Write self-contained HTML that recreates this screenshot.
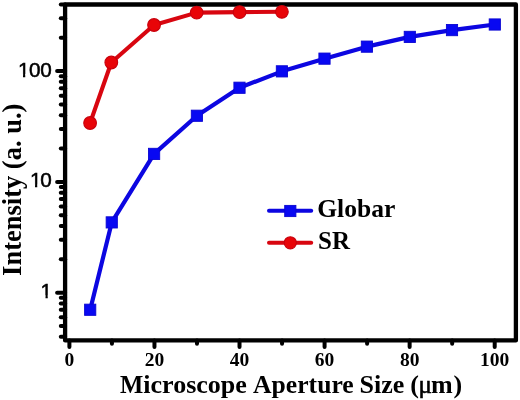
<!DOCTYPE html><html><head><meta charset="utf-8"><title>Intensity vs Microscope Aperture Size</title><style>html,body{margin:0;padding:0;background:#fff;}svg{display:block;}</style></head><body>
<svg width="520" height="400" viewBox="0 0 520 400">
<rect width="520" height="400" fill="#fff"/>
<g stroke="#000" stroke-width="4.0" stroke-linecap="round"><line x1="60.8" y1="336.79" x2="65.1" y2="336.79"/><line x1="60.8" y1="326.05" x2="65.1" y2="326.05"/><line x1="60.8" y1="317.28" x2="65.1" y2="317.28"/><line x1="60.8" y1="309.86" x2="65.1" y2="309.86"/><line x1="60.8" y1="303.44" x2="65.1" y2="303.44"/><line x1="60.8" y1="297.77" x2="65.1" y2="297.77"/><line x1="57.1" y1="292.70" x2="65.1" y2="292.70"/><line x1="60.8" y1="259.35" x2="65.1" y2="259.35"/><line x1="60.8" y1="239.83" x2="65.1" y2="239.83"/><line x1="60.8" y1="225.99" x2="65.1" y2="225.99"/><line x1="60.8" y1="215.25" x2="65.1" y2="215.25"/><line x1="60.8" y1="206.48" x2="65.1" y2="206.48"/><line x1="60.8" y1="199.06" x2="65.1" y2="199.06"/><line x1="60.8" y1="192.64" x2="65.1" y2="192.64"/><line x1="60.8" y1="186.97" x2="65.1" y2="186.97"/><line x1="57.1" y1="181.90" x2="65.1" y2="181.90"/><line x1="60.8" y1="148.55" x2="65.1" y2="148.55"/><line x1="60.8" y1="129.03" x2="65.1" y2="129.03"/><line x1="60.8" y1="115.19" x2="65.1" y2="115.19"/><line x1="60.8" y1="104.45" x2="65.1" y2="104.45"/><line x1="60.8" y1="95.68" x2="65.1" y2="95.68"/><line x1="60.8" y1="88.26" x2="65.1" y2="88.26"/><line x1="60.8" y1="81.84" x2="65.1" y2="81.84"/><line x1="60.8" y1="76.17" x2="65.1" y2="76.17"/><line x1="57.1" y1="71.10" x2="65.1" y2="71.10"/><line x1="60.8" y1="37.75" x2="65.1" y2="37.75"/><line x1="60.8" y1="18.23" x2="65.1" y2="18.23"/><line x1="60.8" y1="4.39" x2="65.1" y2="4.39"/><line x1="69.40" y1="340.4" x2="69.40" y2="347.0"/><line x1="111.93" y1="340.4" x2="111.93" y2="343.7"/><line x1="154.46" y1="340.4" x2="154.46" y2="347.0"/><line x1="196.99" y1="340.4" x2="196.99" y2="343.7"/><line x1="239.52" y1="340.4" x2="239.52" y2="347.0"/><line x1="282.05" y1="340.4" x2="282.05" y2="343.7"/><line x1="324.58" y1="340.4" x2="324.58" y2="347.0"/><line x1="367.11" y1="340.4" x2="367.11" y2="343.7"/><line x1="409.64" y1="340.4" x2="409.64" y2="347.0"/><line x1="452.17" y1="340.4" x2="452.17" y2="343.7"/><line x1="494.70" y1="340.4" x2="494.70" y2="347.0"/></g>
<rect x="65.1" y="4.5" width="450.80" height="335.90" fill="none" stroke="#000" stroke-width="4.3" stroke-linejoin="round"/>
<polyline points="90.20,309.75 111.75,222.40 154.10,153.90 196.90,115.75 239.50,87.75 281.90,71.35 324.50,58.65 366.90,46.65 409.80,36.90 452.00,30.10 494.80,24.50" fill="none" stroke="rgb(12,6,225)" stroke-width="4.2" stroke-linejoin="round"/>
<polyline points="90.10,123.00 111.30,62.50 154.05,25.00 196.70,12.60 239.60,12.10 281.90,11.80" fill="none" stroke="rgb(216,6,16)" stroke-width="4.1" stroke-linejoin="round"/>
<rect x="84.60" y="304.15" width="11.2" height="11.2" fill="rgb(8,8,242)" stroke="rgb(10,6,210)" stroke-width="0.9"/>
<rect x="106.15" y="216.80" width="11.2" height="11.2" fill="rgb(8,8,242)" stroke="rgb(10,6,210)" stroke-width="0.9"/>
<rect x="148.50" y="148.30" width="11.2" height="11.2" fill="rgb(8,8,242)" stroke="rgb(10,6,210)" stroke-width="0.9"/>
<rect x="191.30" y="110.15" width="11.2" height="11.2" fill="rgb(8,8,242)" stroke="rgb(10,6,210)" stroke-width="0.9"/>
<rect x="233.90" y="82.15" width="11.2" height="11.2" fill="rgb(8,8,242)" stroke="rgb(10,6,210)" stroke-width="0.9"/>
<rect x="276.30" y="65.75" width="11.2" height="11.2" fill="rgb(8,8,242)" stroke="rgb(10,6,210)" stroke-width="0.9"/>
<rect x="318.90" y="53.05" width="11.2" height="11.2" fill="rgb(8,8,242)" stroke="rgb(10,6,210)" stroke-width="0.9"/>
<rect x="361.30" y="41.05" width="11.2" height="11.2" fill="rgb(8,8,242)" stroke="rgb(10,6,210)" stroke-width="0.9"/>
<rect x="404.20" y="31.30" width="11.2" height="11.2" fill="rgb(8,8,242)" stroke="rgb(10,6,210)" stroke-width="0.9"/>
<rect x="446.40" y="24.50" width="11.2" height="11.2" fill="rgb(8,8,242)" stroke="rgb(10,6,210)" stroke-width="0.9"/>
<rect x="489.20" y="18.90" width="11.2" height="11.2" fill="rgb(8,8,242)" stroke="rgb(10,6,210)" stroke-width="0.9"/>
<circle cx="90.10" cy="123.00" r="6.35" fill="rgb(232,4,8)" stroke="rgb(200,0,12)" stroke-width="1.1"/>
<circle cx="111.30" cy="62.50" r="6.35" fill="rgb(232,4,8)" stroke="rgb(200,0,12)" stroke-width="1.1"/>
<circle cx="154.05" cy="25.00" r="6.35" fill="rgb(232,4,8)" stroke="rgb(200,0,12)" stroke-width="1.1"/>
<circle cx="196.70" cy="12.60" r="6.35" fill="rgb(232,4,8)" stroke="rgb(200,0,12)" stroke-width="1.1"/>
<circle cx="239.60" cy="12.10" r="6.35" fill="rgb(232,4,8)" stroke="rgb(200,0,12)" stroke-width="1.1"/>
<circle cx="281.90" cy="11.80" r="6.35" fill="rgb(232,4,8)" stroke="rgb(200,0,12)" stroke-width="1.1"/>
<line x1="269" y1="210.7" x2="311.2" y2="210.7" stroke="rgb(12,6,225)" stroke-width="4" stroke-linecap="round"/>
<rect x="284.7" y="205.4" width="11.2" height="11.2" fill="rgb(8,8,242)" stroke="rgb(10,6,210)" stroke-width="0.9"/>
<line x1="269" y1="242.7" x2="311.2" y2="242.7" stroke="rgb(216,6,16)" stroke-width="4" stroke-linecap="round"/>
<circle cx="290.3" cy="242.8" r="6.1" fill="rgb(232,4,8)" stroke="rgb(200,0,12)" stroke-width="1.1"/>
<text x="317.2" y="216.7" textLength="78.1" lengthAdjust="spacingAndGlyphs" style="font-family:'Liberation Serif','Times New Roman',serif;font-weight:bold;font-size:26px">Globar</text>
<text x="318.1" y="248.6" textLength="31.9" lengthAdjust="spacingAndGlyphs" style="font-family:'Liberation Serif','Times New Roman',serif;font-weight:bold;font-size:26px">SR</text>
<text x="18" y="76.7" stroke="#000" stroke-width="0.5" style="font-family:'Liberation Sans',Arial,sans-serif;font-size:20.7px">1</text>
<rect x="18.40" y="74.10" width="4.6" height="4.3" fill="#fff"/>
<rect x="25.25" y="74.10" width="4.5" height="4.3" fill="#fff"/>
<text x="28.9" y="76.7" stroke="#000" stroke-width="0.5" style="font-family:'Liberation Sans',Arial,sans-serif;font-size:20.7px">0</text>
<text x="40.3" y="76.7" stroke="#000" stroke-width="0.5" style="font-family:'Liberation Sans',Arial,sans-serif;font-size:20.7px">0</text>
<text x="30" y="187.2" stroke="#000" stroke-width="0.5" style="font-family:'Liberation Sans',Arial,sans-serif;font-size:20.7px">1</text>
<rect x="30.40" y="184.60" width="4.6" height="4.3" fill="#fff"/>
<rect x="37.25" y="184.60" width="4.5" height="4.3" fill="#fff"/>
<text x="40.2" y="187.2" stroke="#000" stroke-width="0.5" style="font-family:'Liberation Sans',Arial,sans-serif;font-size:20.7px">0</text>
<text x="40.5" y="298.0" stroke="#000" stroke-width="0.5" style="font-family:'Liberation Sans',Arial,sans-serif;font-size:20.7px">1</text>
<rect x="40.90" y="295.40" width="4.6" height="4.3" fill="#fff"/>
<rect x="47.75" y="295.40" width="4.5" height="4.3" fill="#fff"/>
<text x="69.40" y="366.2" text-anchor="middle" style="font-family:'Liberation Serif','Times New Roman',serif;font-weight:bold;font-size:19.5px">0</text>
<text x="154.46" y="366.2" text-anchor="middle" style="font-family:'Liberation Serif','Times New Roman',serif;font-weight:bold;font-size:19.5px">20</text>
<text x="239.52" y="366.2" text-anchor="middle" style="font-family:'Liberation Serif','Times New Roman',serif;font-weight:bold;font-size:19.5px">40</text>
<text x="324.58" y="366.2" text-anchor="middle" style="font-family:'Liberation Serif','Times New Roman',serif;font-weight:bold;font-size:19.5px">60</text>
<text x="409.64" y="366.2" text-anchor="middle" style="font-family:'Liberation Serif','Times New Roman',serif;font-weight:bold;font-size:19.5px">80</text>
<text x="494.70" y="366.2" text-anchor="middle" style="font-family:'Liberation Serif','Times New Roman',serif;font-weight:bold;font-size:19.5px">100</text>
<g style="font-family:'Liberation Serif','Times New Roman',serif;font-weight:bold;font-size:26px">
<text x="120.0" y="392.5" textLength="23.28" lengthAdjust="spacingAndGlyphs">M</text>
<text x="143.3" y="392.5">icroscope</text>
<text x="253.1" y="392.5" textLength="100.6" lengthAdjust="spacingAndGlyphs">Aperture</text>
<text x="359.5" y="392.5">Size</text>
<text x="410.3" y="392.5">(</text>
<text x="418.4" y="392.5" textLength="13.4" lengthAdjust="spacingAndGlyphs" style="font-family:'Liberation Serif','Times New Roman',serif;font-weight:normal;font-size:26px" stroke="#000" stroke-width="0.6">&#956;</text>
<text x="431.1" y="392.5">m</text>
<text x="453.6" y="392.5">)</text>
</g>
<text transform="translate(21.0,275.9) rotate(-90)" style="font-family:'Liberation Serif','Times New Roman',serif;font-weight:bold;font-size:26.5px">Intensity (a. u.)</text>
</svg></body></html>
